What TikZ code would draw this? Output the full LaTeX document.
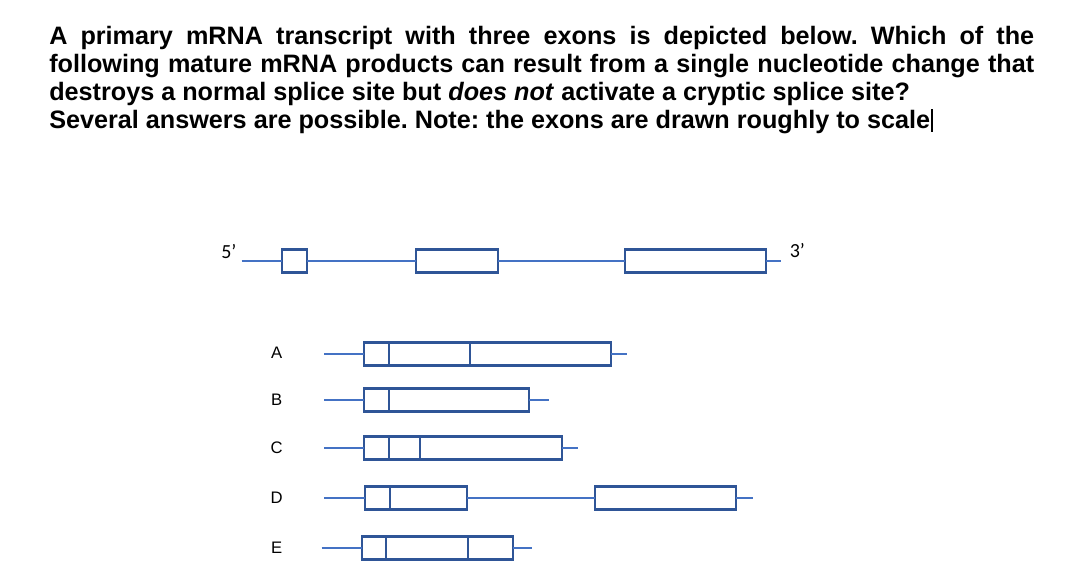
\documentclass[tikz,border=0pt]{standalone}
\usepackage{fontspec}
\setmainfont{Liberation Sans}
\newfontfamily\calib{Carlito}
\definecolor{intron}{HTML}{4472C4}
\definecolor{exonc}{HTML}{2F5597}
\newcommand\exonbox[5]{\node[exon, minimum width={(#3-#2)*0.75pt}, minimum height={(#5-#4)*0.75pt}] (#1) at ({(#2+#3)/2},{(#4+#5)/2}) {};}
\frenchspacing
\begin{document}
\begin{tikzpicture}[x=0.75pt,y=-0.75pt,
  exon/.style={draw=exonc, line width=1.6pt, fill=white, inner sep=0pt, outer sep=0pt},
  introline/.style={draw=intron, line width=1.3pt},
  qtext/.style={anchor=base west, inner sep=0pt, font=\fontsize{18.9}{22}\selectfont\bfseries},
  lbl/.style={inner sep=0pt, font=\fontsize{12.5}{15}\selectfont},
  endlbl/.style={anchor=base west, inner sep=0pt, font=\calib\fontsize{15}{18}\selectfont}]
\fill[white] (0,0) rectangle (1068,568);
\useasboundingbox (0,0) rectangle (1068,568);
% question text
\node[qtext] (q1) at (49,44) {\makebox[738.75pt][s]{A primary mRNA transcript with three exons is depicted below. Which of the}};
\node[qtext] (q2) at (49,72) {\makebox[738.75pt][s]{following mature mRNA products can result from a single nucleotide change that}};
\node[qtext] (q3) at (49,100) {destroys a normal splice site but \textit{does not} activate a cryptic splice site?};
\node[qtext] (q4) at (49,128) {Several answers are possible. Note: the exons are drawn roughly to scale};
\draw[line width=1.1pt] (q4.base east) ++(1.5,-19) coordinate (cur1) -- ++(0,23) coordinate (cur2);
% primary transcript
\node[endlbl] (five) at (221,258.3) {5’};
\node[endlbl] (three) at (789.5,257) {3’};
\coordinate (p0) at (241.5,261);
\coordinate (p4) at (781,261);
\exonbox{e1}{282}{307}{249.5}{272.5}
\exonbox{e2}{416}{498}{249.5}{272.5}
\exonbox{e3}{625}{766}{249.5}{272.5}
\draw[introline] (p0) -- (e1.west) (e1.east) -- (e2.west) (e2.east) -- (e3.west) (e3.east) -- (p4);
% A
\node[lbl] (la) at (276.7,353) {A};
\coordinate (a0) at (324,354);
\coordinate (a4) at (627.3,354);
\exonbox{a1}{364.3}{389}{342.5}{365.5}
\exonbox{a2}{389}{470}{342.5}{365.5}
\exonbox{a3}{470}{610.7}{342.5}{365.5}
\draw[introline] (a0) -- (a1.west) (a3.east) -- (a4);
% B
\node[lbl] (lb) at (276.7,400) {B};
\coordinate (b0) at (324,400);
\coordinate (b4) at (549.3,400);
\exonbox{b1}{364.3}{389}{388.5}{411.5}
\exonbox{b2}{389}{529.3}{388.5}{411.5}
\draw[introline] (b0) -- (b1.west) (b2.east) -- (b4);
% C
\node[lbl] (lc) at (276.7,447.5) {C};
\coordinate (c0) at (324,448);
\coordinate (c4) at (578.3,448);
\exonbox{c1}{364.3}{389}{436.5}{459.5}
\exonbox{c2}{389}{420.3}{436.5}{459.5}
\exonbox{c3}{420.3}{561.7}{436.5}{459.5}
\draw[introline] (c0) -- (c1.west) (c3.east) -- (c4);
% D
\node[lbl] (ld) at (276.7,497.5) {D};
\coordinate (d0) at (324,498);
\coordinate (d4) at (752.7,498);
\exonbox{d1}{365.3}{390}{486.5}{509.5}
\exonbox{d2}{390}{467.3}{486.5}{509.5}
\exonbox{d3}{595}{735.7}{486.5}{509.5}
\draw[introline] (d0) -- (d1.west) (d2.east) -- (d3.west) (d3.east) -- (d4);
% E
\node[lbl] (le) at (276.7,547.5) {E};
\coordinate (f0) at (321.7,548);
\coordinate (f4) at (531.7,548);
\exonbox{f1}{362.3}{386.3}{536.5}{559.5}
\exonbox{f2}{386.3}{468.3}{536.5}{559.5}
\exonbox{f3}{468.3}{513.3}{536.5}{559.5}
\draw[introline] (f0) -- (f1.west) (f3.east) -- (f4);
\end{tikzpicture}
\end{document}
